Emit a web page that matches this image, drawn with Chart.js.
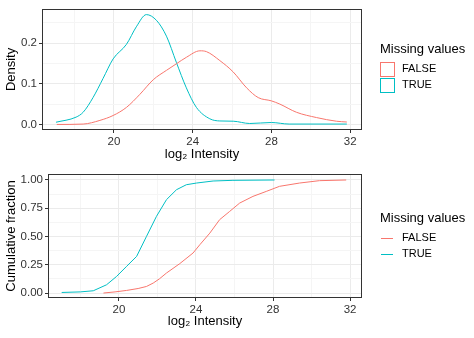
<!DOCTYPE html>
<html>
<head>
<meta charset="utf-8">
<script src="https://cdn.jsdelivr.net/npm/chart.js@4"></script>
<style>
  html, body { margin: 0; padding: 0; background: #fff; }
  #wrap { width: 474px; height: 338px; position: relative; }
  .panel { position: absolute; left: 0; width: 474px; }
  #top { top: 0; height: 165px; }
  #bottom { top: 165px; height: 173px; }
</style>
</head>
<body>
<div id="wrap">
  <div class="panel" id="top"><canvas id="densityChart"></canvas></div>
  <div class="panel" id="bottom"><canvas id="cdfChart"></canvas></div>
</div>
<script>
// groups and colours
const groups = ['FALSE', 'TRUE'];
const groupColors = ['#F8766D', '#00BFC4'];
const legendTitle = 'Missing values';

// density curves (log2 intensity vs density)
const densFalseX = [17.1, 18.44, 19.29, 19.96, 20.64, 21.32, 22.0, 22.67, 23.17, 23.68, 24.37, 24.7, 25.38, 26.06, 26.74, 27.33, 28.0, 28.43, 29.27, 30.29, 31.3, 31.83];
const densFalseY = [0.0, 0.001, 0.010, 0.022, 0.042, 0.074, 0.110, 0.133, 0.149, 0.165, 0.181, 0.179, 0.157, 0.129, 0.090, 0.066, 0.058, 0.050, 0.030, 0.017, 0.008, 0.006];
const densTrueX = [17.06, 18.08, 18.44, 18.94, 19.45, 19.96, 20.64, 21.14, 21.65, 22.16, 22.67, 23.17, 23.68, 24.19, 24.87, 25.38, 26.06, 26.9, 28.0, 28.9, 31.83];
const densTrueY = [0.0055, 0.018, 0.030, 0.066, 0.113, 0.161, 0.197, 0.240, 0.270, 0.256, 0.217, 0.153, 0.090, 0.042, 0.014, 0.0086, 0.008, 0.0024, 0.0048, 0.001, 0.001];

// cumulative fraction curves
const cdfFalseX = [19.2, 19.8, 20.4, 21.0, 21.43, 21.78, 22.1, 22.47, 23.16, 23.85, 24.2, 24.72, 25.23, 25.75, 26.27, 26.96, 27.65, 28.34, 29.38, 30.41, 31.8];
const cdfFalseY = [0.0, 0.010, 0.023, 0.040, 0.058, 0.088, 0.125, 0.177, 0.260, 0.354, 0.427, 0.530, 0.649, 0.722, 0.796, 0.855, 0.899, 0.944, 0.973, 0.994, 1.0];
const cdfTrueX = [17.03, 18.0, 18.67, 19.36, 19.88, 20.4, 20.92, 21.43, 21.95, 22.47, 22.99, 23.5, 24.03, 24.89, 25.92, 28.08];
const cdfTrueY = [0.005, 0.010, 0.020, 0.073, 0.147, 0.236, 0.324, 0.500, 0.678, 0.826, 0.914, 0.958, 0.973, 0.991, 0.997, 1.0];

// axis ticks (major every other one)
const xTicks = [18, 20, 22, 24, 26, 28, 30, 32];
const xMajorStep = 4;
const densYTicks = [0, 0.05, 0.1, 0.15, 0.2, 0.25];
const densMajorStep = 0.1;
const cdfYTicks = [0, 0.125, 0.25, 0.375, 0.5, 0.625, 0.75, 0.875, 1];
const cdfMajorStep = 0.25;

const FONT = '"Liberation Sans", Arial, sans-serif';

function toPoints(xs, ys) {
    return xs.map((x, i) => ({ x: x, y: ys[i] }));
}

function isMajor(v, step) {
    const r = v / step;
    return Math.abs(r - Math.round(r)) < 1e-6;
}

// ggplot-ish axis: fixed ticks, light major/minor grid, short dark tick marks
function makeAxis(min, max, ticks, step, digits, size, title, titlePad) {
    return {
        type: 'linear',
        min: min,
        max: max,
        afterBuildTicks: scale => { scale.ticks = ticks.map(v => ({ value: v })); },
        afterFit: scale => {
            if (scale.isHorizontal()) scale.height = size; else scale.width = size;
        },
        ticks: {
            autoSkip: false,
            maxRotation: 0,
            padding: 2,
            color: '#333333',
            font: { family: FONT, size: 11.5 },
            callback: v => isMajor(v, step) ? (digits < 0 ? String(v) : v.toFixed(digits)) : ''
        },
        grid: {
            color: c => isMajor(c.tick.value, step) ? '#EBEBEB' : '#F5F5F5',
            tickColor: c => isMajor(c.tick.value, step) ? '#333333' : 'rgba(0,0,0,0)',
            tickLength: 3,
            lineWidth: 1
        },
        border: { display: false },
        title: {
            display: true,
            text: title,
            color: '#000',
            font: { family: FONT, size: 13 },
            padding: titlePad
        }
    };
}

// panel border + legend on the right
const ggPanel = {
    id: 'ggPanel',
    afterDraw(chart, args, opts) {
        const ctx = chart.ctx;
        const a = chart.chartArea;
        ctx.save();
        ctx.strokeStyle = '#333333';
        ctx.lineWidth = 1;
        ctx.strokeRect(Math.round(a.left) + 0.5, Math.round(a.top) + 0.5,
            Math.round(a.right - a.left) - 1, Math.round(a.bottom - a.top) - 1);

        ctx.fillStyle = '#000';
        ctx.textBaseline = 'middle';
        ctx.textAlign = 'left';
        ctx.font = '13px ' + FONT;
        ctx.fillText(legendTitle, opts.x, opts.titleY);
        ctx.font = '11px ' + FONT;
        groups.forEach((g, i) => {
            const y = opts.rowY[i];
            ctx.strokeStyle = groupColors[i];
            ctx.lineWidth = 1;
            if (opts.key === 'box') {
                ctx.strokeRect(opts.x + 0.5, y - 7 + 0.5, 14, 14);
            } else {
                ctx.beginPath();
                ctx.moveTo(opts.x + 1, Math.round(y) + 0.5);
                ctx.lineTo(opts.x + 13, Math.round(y) + 0.5);
                ctx.stroke();
            }
            ctx.fillStyle = '#000';
            ctx.fillText(g, opts.x + 22, y);
        });
        ctx.restore();
    }
};

function lineSet(label, data, color, smooth) {
    return {
        label: label,
        data: data,
        borderColor: color,
        backgroundColor: color,
        borderWidth: 1,
        pointRadius: 0,
        fill: false,
        tension: smooth ? 0.4 : 0,
        cubicInterpolationMode: smooth ? 'monotone' : 'default'
    };
}

const baseOptions = {
    responsive: true,
    maintainAspectRatio: false,
    animation: false,
    plugins: { legend: { display: false }, tooltip: { enabled: false } }
};

new Chart(document.getElementById('densityChart').getContext('2d'), {
    type: 'line',
    data: {
        datasets: [
            lineSet(groups[0], toPoints(densFalseX, densFalseY), groupColors[0], true),
            lineSet(groups[1], toPoints(densTrueX, densTrueY), groupColors[1], true)
        ]
    },
    options: Object.assign({}, baseOptions, {
        layout: { padding: { top: 5, right: 112, left: 0, bottom: 0 } },
        scales: {
            x: makeAxis(16.35, 32.6, xTicks, xMajorStep, -1, 35, 'log\u2082 Intensity', { top: 0, bottom: 3 }),
            y: makeAxis(-0.0136, 0.284, densYTicks, densMajorStep, 1, 42, 'Density', { top: 4, bottom: 0 })
        },
        plugins: Object.assign({}, baseOptions.plugins, {
            ggPanel: { x: 380, titleY: 49, rowY: [69, 85], key: 'box' }
        })
    }),
    plugins: [ggPanel]
});

new Chart(document.getElementById('cdfChart').getContext('2d'), {
    type: 'line',
    data: {
        datasets: [
            lineSet(groups[0], toPoints(cdfFalseX, cdfFalseY), groupColors[0], false),
            lineSet(groups[1], toPoints(cdfTrueX, cdfTrueY), groupColors[1], false)
        ]
    },
    options: Object.assign({}, baseOptions, {
        layout: { padding: { top: 9, right: 112, left: 0, bottom: 0 } },
        scales: {
            x: makeAxis(16.32, 32.62, xTicks, xMajorStep, -1, 40, 'log\u2082 Intensity', { top: 0, bottom: 8.5 }),
            y: makeAxis(-0.044, 1.053, cdfYTicks, cdfMajorStep, 2, 48, 'Cumulative fraction', { top: 4, bottom: 0 })
        },
        plugins: Object.assign({}, baseOptions.plugins, {
            ggPanel: { x: 380, titleY: 53, rowY: [73, 89], key: 'line' }
        })
    }),
    plugins: [ggPanel]
});
</script>
</body>
</html>
